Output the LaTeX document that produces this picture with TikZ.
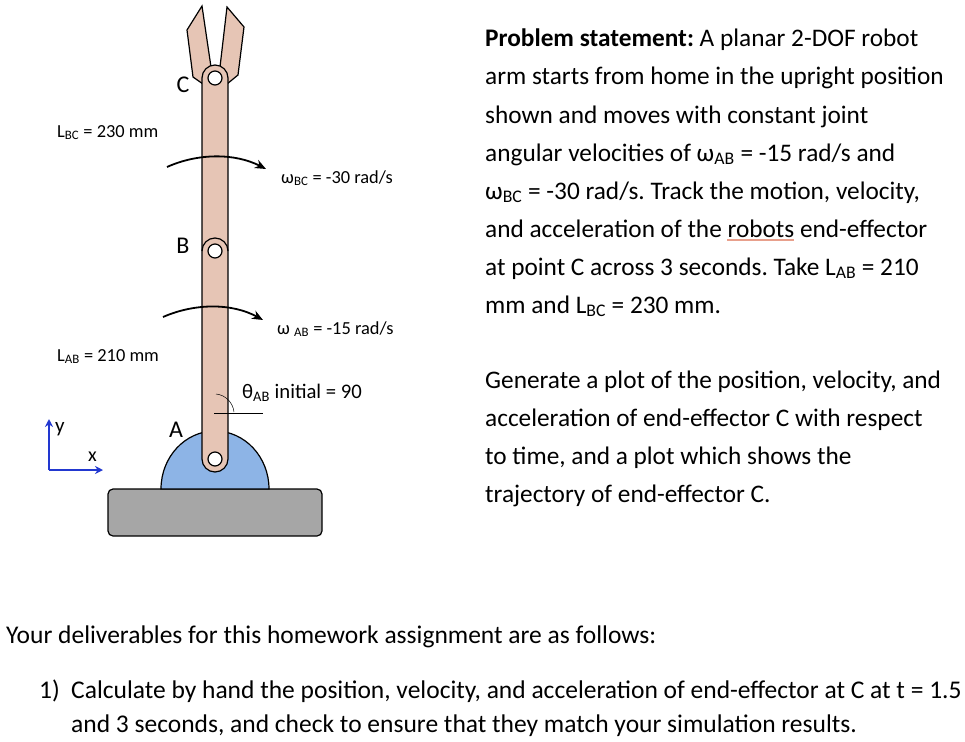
\documentclass[tikz,border=0pt]{standalone}
\usepackage{fontspec}
\setmainfont{Carlito}
\usetikzlibrary{arrows.meta}
\definecolor{armfill}{HTML}{E6C5B5}
\definecolor{domefill}{HTML}{8DB4E6}
\definecolor{basefill}{HTML}{A6A6A6}
\definecolor{axisblue}{HTML}{2238D0}
\definecolor{spellred}{HTML}{E8A08C}
\tikzset{
	part/.style={draw=black,line width=1.2pt},
	hole/.style={circle,draw=black,fill=white,line width=1.2pt,minimum size=14pt,inner sep=0pt},
	spin/.style={line width=1.8pt,-{Stealth[length=11pt,width=9pt]}},
	axisline/.style={draw=axisblue,line width=1.8pt,-{Stealth[length=8pt,width=8pt]}},
	smalllabel/.style={anchor=base west,inner sep=0pt,font=\fontsize{18.4}{18.4}\selectfont},
	jointlabel/.style={anchor=base,inner sep=0pt,font=\fontsize{24}{24}\selectfont},
	bodyline/.style={anchor=base west,inner sep=0pt,font=\fontsize{25.3}{25.3}\selectfont\frenchspacing},
	lowerline/.style={anchor=base west,inner sep=0pt,font=\fontsize{25.5}{25.5}\selectfont\frenchspacing}
}
\begin{document}
\begin{tikzpicture}[x=1pt,y=1pt]
	\useasboundingbox (0,0) rectangle (965,-741);
	% base and dome
	\draw[part,fill=basefill,rounded corners=5pt] (108,-489) rectangle (322,-536);
	\draw[part,fill=domefill] (161,-489) arc[start angle=180,end angle=0,x radius=54pt,y radius=58pt] -- cycle;
	% gripper
	\draw[part,fill=armfill] (202,-6) -- (187,-30) -- (193,-77) -- (203,-84) -- (211,-67) -- cycle;
	\draw[part,fill=armfill] (227,-7) -- (244,-27) -- (238,-75) -- (227,-84) -- (220,-67) -- cycle;
	% arm
	\draw[part,fill=armfill] (202,-78) arc[start angle=180,end angle=0,radius=13pt] -- (228,-459) arc[start angle=0,end angle=-180,radius=13pt] -- cycle;
	\draw[part] (202,-251) arc[start angle=180,end angle=0,radius=13pt];
	\node[hole] (jointC) at (215,-78) {};
	\node[hole] (jointB) at (215,-251) {};
	\node[hole] (jointA) at (215,-459) {};
	\node[jointlabel] (labelC) at (183,-93) {C};
	\node[jointlabel] (labelB) at (183,-253) {B};
	\node[jointlabel] (labelA) at (176,-437) {A};
	% spin arrows
	\coordinate (spinBCstart) at (167,-167);
	\coordinate (spinBCend) at (266,-169);
	\coordinate (spinABstart) at (163,-317);
	\coordinate (spinABend) at (263,-320);
	\draw[spin] (spinBCstart) .. controls (198,-153) and (235,-153) .. (spinBCend);
	\draw[spin] (spinABstart) .. controls (195,-303) and (232,-303) .. (spinABend);
	% angle mark
	\coordinate (angleLeft) at (214,-413);
	\coordinate (angleRight) at (263,-413);
	\draw[line width=0.7pt] (angleLeft) -- (angleRight);
	\draw[line width=0.5pt] (216,-394) .. controls (226,-395) and (233,-403) .. (234,-412);
	% axes
	\coordinate (axisO) at (49,-470);
	\coordinate (axisY) at (49,-419);
	\coordinate (axisX) at (103,-470);
	\draw[axisline] (axisO) -- (axisY);
	\draw[axisline] (axisO) -- (axisX);
	\node[smalllabel,font=\fontsize{21}{21}\selectfont] (labelY) at (55,-432) {y};
	\node[smalllabel,font=\fontsize{20}{20}\selectfont] (labelX) at (88,-461) {x};
	% small labels
	\node[smalllabel] (lengthBC) at (57,-137) {L\textsubscript{BC} = 230 mm};
	\node[smalllabel] (lengthAB) at (57,-361) {L\textsubscript{AB} = 210 mm};
	\node[smalllabel] (omegaBC) at (281,-183) {ω\textsubscript{BC} = -30 rad/s};
	\node[smalllabel] (omegaAB) at (277,-334) {ω \textsubscript{AB} = -15 rad/s};
	\node[smalllabel,font=\fontsize{20.7}{20.7}\selectfont] (thetaAB) at (242,-398) {θ\textsubscript{AB} initial = 90};
	% problem statement
	\node[bodyline] (line1) at (485,-47) {\textbf{Problem statement:} A planar 2-DOF robot};
	\node[bodyline] (line2) at (485,-85) {arm starts from home in the upright position};
	\node[bodyline] (line3) at (485,-123) {shown and moves with constant joint};
	\node[bodyline] (line4) at (485,-161) {angular velocities of ω\textsubscript{AB} = -15 rad/s and};
	\node[bodyline] (line5) at (485,-199) {ω\textsubscript{BC} = -30 rad/s. Track the motion, velocity,};
	\node[bodyline] (line6) at (485,-237) {and acceleration of the robots end-effector};
	\node[bodyline] (line7) at (485,-275) {at point C across 3 seconds. Take L\textsubscript{AB} = 210};
	\node[bodyline] (line8) at (485,-313) {mm and L\textsubscript{BC} = 230 mm.};
	\coordinate (spellLeft) at (727,-240);
	\coordinate (spellRight) at (794,-240);
	\draw[spellred,line width=1.2pt] (spellLeft) -- (spellRight);
	\node[bodyline] (line9) at (485,-388) {Generate a plot of the position, velocity, and};
	\node[bodyline] (line10) at (485,-426) {acceleration of end-effector C with respect};
	\node[bodyline] (line11) at (485,-464) {to time, and a plot which shows the};
	\node[bodyline] (line12) at (485,-502) {trajectory of end-effector C.};
	% deliverables
	\node[lowerline] (line13) at (6,-643) {Your deliverables for this homework assignment are as follows:};
	\node[lowerline] (item1) at (39,-698) {1)};
	\node[lowerline] (line14) at (71,-698) {Calculate by hand the position, velocity, and acceleration of end-effector at C at t = 1.5};
	\node[lowerline] (line15) at (71,-732) {and 3 seconds, and check to ensure that they match your simulation results.};
\end{tikzpicture}
\end{document}
